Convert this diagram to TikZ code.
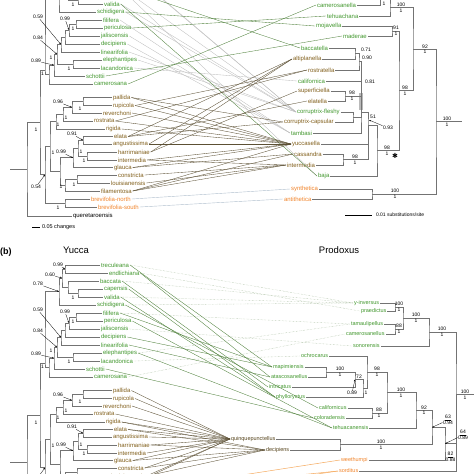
\documentclass[tikz,border=0pt]{standalone}
\usepackage{fontspec}
\setmainfont{Liberation Sans}
\newfontfamily\dejavu{DejaVu Sans}
\usetikzlibrary{arrows.meta}

\definecolor{ygreen}{RGB}{64,150,44}
\definecolor{ybrown}{RGB}{128,94,26}
\definecolor{ydark}{RGB}{84,66,26}
\definecolor{yorange}{RGB}{240,130,40}
\definecolor{treegray}{RGB}{115,115,115}
\definecolor{lkgreen}{RGB}{78,128,58}
\definecolor{lkpale}{RGB}{160,182,150}
\definecolor{lkgray}{RGB}{190,190,190}
\definecolor{lkbrown}{RGB}{92,80,52}
\definecolor{lkblue}{RGB}{175,190,205}
\definecolor{lkorange}{RGB}{245,170,95}

\tikzset{
  taxon/.style={anchor=west, inner sep=0.8pt, font=\fontsize{6}{7}\selectfont},
  smalltaxon/.style={taxon, font=\fontsize{5.5}{6.5}\selectfont},
  supp/.style={inner sep=0.3pt, font=\fontsize{5}{6}\selectfont},
  branch/.style={draw=treegray, line width=0.7pt},
  pointer/.style={-{Stealth[length=2pt,width=1.6pt]}, line width=0.3pt, black},
  linkgreen/.style={lkgreen, line width=0.35pt},
  linkpale/.style={lkpale, line width=0.4pt, densely dotted},
  linkgray/.style={lkgray, line width=0.35pt},
  linkbrown/.style={lkbrown, line width=0.35pt},
  linkblue/.style={lkblue, line width=0.4pt},
  linkorange/.style={lkorange, line width=0.5pt},
}

\newcommand{\clade}[3]{\draw[branch] (#1) -| (#2) |- (#3);}
% support value above and below a stem
\newcommand{\bsup}[5]{%
  \node[supp,anchor=south] (#1u) at (#2,#3-0.6) {#4};
  \node[supp,anchor=north] (#1l) at (#2,#3+0.6) {#5};}

% the Yucca tree, drawn in both panels
\newcommand{\yuccatree}[1]{%
  \foreach \nm/\xx/\yy/\tcol in {treculeana/100/-28/ygreen, endlichiana/108/-20/ygreen,
      baccata/99/-12/ygreen, capensis/103/-4/ygreen, valida/103/4/ygreen,
      schidigera/96/12/ygreen, filifera/102/20/ygreen, periculosa/103/28/ygreen,
      jaliscensis/100/36/ygreen, decipiens/100/44/ygreen, linearifolia/100/52/ygreen,
      elephantipes/102/60/ygreen, lacandonica/100/68/ygreen, schottii/85/76/ygreen,
      camerosana/93/84/ygreen, pallida/112/97.5/ybrown, rupicola/112/105.5/ybrown,
      reverchoni/102/113/ybrown, rostrata/93/121/ybrown, rigida/105/129/ybrown,
      elata/113/136.5/ybrown, angustissima/112/144/ybrown, harrimaniae/117/152/ybrown,
      intermedia/117/160/ybrown, glauca/113/167.5/ybrown, constricta/117/175/ybrown,
      louisianensis/110/183/ybrown, filamentosa/100/191/ybrown,
      brevifolia-north/90/199/yorange, brevifolia-south/97/207/yorange,
      queretaroensis/72/216/black}{
    \node[taxon,text=\tcol] (#1-\nm) at (\xx,\yy) {\nm};
  }
  % green clade
  \coordinate (#1-a1) at (65,-24);
  \coordinate (#1-a2) at (78,0);
  \coordinate (#1-a3) at (68,-6);
  \coordinate (#1-a4) at (62,-15);
  \coordinate (#1-a5) at (59,-1.5);
  \coordinate (#1-a6) at (76,24);
  \coordinate (#1-a7) at (69,30);
  \coordinate (#1-a8) at (65,37);
  \coordinate (#1-a9) at (61,44.5);
  \coordinate (#1-a10) at (73,64);
  \coordinate (#1-a11) at (57,54.25);
  \coordinate (#1-a12) at (54,65.1);
  \coordinate (#1-a13) at (49,74.6);
  \coordinate (#1-a14) at (45,70);
  \clade{#1-treculeana.west}{#1-a1}{#1-endlichiana.west}
  \clade{#1-capensis.west}{#1-a2}{#1-valida.west}
  \clade{#1-baccata.west}{#1-a3}{#1-a2}
  \clade{#1-a1}{#1-a4}{#1-a3}
  \clade{#1-a4}{#1-a5}{#1-schidigera.west}
  \clade{#1-filifera.west}{#1-a6}{#1-periculosa.west}
  \clade{#1-a6}{#1-a7}{#1-jaliscensis.west}
  \clade{#1-a7}{#1-a8}{#1-decipiens.west}
  \clade{#1-a8}{#1-a9}{#1-linearifolia.west}
  \clade{#1-elephantipes.west}{#1-a10}{#1-lacandonica.west}
  \clade{#1-a9}{#1-a11}{#1-a10}
  \clade{#1-a11}{#1-a12}{#1-schottii.west}
  \clade{#1-a12}{#1-a13}{#1-camerosana.west}
  \clade{#1-a5}{#1-a14}{#1-a13}
  % brown clade
  \coordinate (#1-b1) at (83,101.5);
  \coordinate (#1-b2) at (72,107.25);
  \coordinate (#1-b3) at (63,114.1);
  \coordinate (#1-b4) at (56,121.6);
  \coordinate (#1-b5) at (83,140.25);
  \coordinate (#1-b6) at (87,156);
  \coordinate (#1-b7) at (78,148.1);
  \coordinate (#1-b8) at (73,157.8);
  \coordinate (#1-b9) at (77,179);
  \coordinate (#1-b10) at (65,185);
  \coordinate (#1-b11) at (60,171.4);
  \coordinate (#1-b12) at (50,146.5);
  \coordinate (#1-c1) at (65,203);
  \coordinate (#1-c2) at (45,174.7);
  \coordinate (#1-r1) at (40,122.35);
  \coordinate (#1-r0) at (27,169.2);
  \clade{#1-pallida.west}{#1-b1}{#1-rupicola.west}
  \clade{#1-b1}{#1-b2}{#1-reverchoni.west}
  \clade{#1-b2}{#1-b3}{#1-rostrata.west}
  \clade{#1-b3}{#1-b4}{#1-rigida.west}
  \clade{#1-elata.west}{#1-b5}{#1-angustissima.west}
  \clade{#1-harrimaniae.west}{#1-b6}{#1-intermedia.west}
  \clade{#1-b5}{#1-b7}{#1-b6}
  \clade{#1-b7}{#1-b8}{#1-glauca.west}
  \clade{#1-constricta.west}{#1-b9}{#1-louisianensis.west}
  \clade{#1-b9}{#1-b10}{#1-filamentosa.west}
  \clade{#1-b8}{#1-b11}{#1-b10}
  \clade{#1-b4}{#1-b12}{#1-b11}
  \clade{#1-brevifolia-north.west}{#1-c1}{#1-brevifolia-south.west}
  \clade{#1-b12}{#1-c2}{#1-c1}
  \clade{#1-a14}{#1-r1}{#1-c2}
  \clade{#1-r1}{#1-r0}{#1-queretaroensis.west}
  \draw[branch] (#1-r0) -- ++(-17,0);
  % support values
  \node[supp] (#1-s1) at (58,-28) {0.99};
  \node[supp] (#1-s2) at (50,-18) {0.60};
  \node[supp] (#1-s3) at (38,-9) {0.78};
  \node[supp] (#1-s4) at (73,5) {1};
  \node[supp] (#1-s5) at (38,17) {0.59};
  \node[supp] (#1-s6) at (65,19) {0.99};
  \node[supp] (#1-s7) at (73,29) {1};
  \node[supp] (#1-s8) at (38,38) {0.84};
  \node[supp] (#1-s9) at (36,61) {0.89};
  \node[supp] (#1-s10) at (69,69) {1};
  \node[supp] (#1-s11) at (42.5,74) {1};
  \node[supp] (#1-s12) at (51,58) {1};
  \node[supp] (#1-s13) at (58,102) {0.96};
  \node[supp] (#1-s14) at (80,108.5) {1};
  \node[supp] (#1-s15) at (66,118) {1};
  \node[supp] (#1-s16) at (58,125) {1};
  \node[supp] (#1-s17) at (72,134) {0.91};
  \node[supp] (#1-s18) at (81,152) {1};
  \node[supp] (#1-s19) at (84,161) {1};
  \node[supp] (#1-s20) at (61,152) {0.99};
  \node[supp] (#1-s21) at (53,153) {1};
  \node[supp] (#1-s22) at (61,187) {1};
  \node[supp] (#1-s23) at (74,185) {1};
  \node[supp] (#1-s24) at (36,130) {1};
  \node[supp] (#1-s25) at (36,187) {0.54};
  \node[supp] (#1-s26) at (58,208) {1};
  \draw[pointer] (#1-s1) -- (#1-a1);
  \draw[pointer] (#1-s2) -- (#1-a4);
  \draw[pointer] (#1-s3) -- (#1-a5);
  \draw[pointer] (#1-s5) -- (#1-a9);
  \draw[pointer] (#1-s6) -- (#1-a7);
  \draw[pointer] (#1-s8) -- (#1-a11);
  \draw[pointer] (#1-s9) -- (#1-a12);
  \draw[pointer] (#1-s13) -- (#1-b2);
  \draw[pointer] (#1-s17) -- (#1-b5);
  \draw[pointer] (#1-s20) -- (#1-b8);
  \draw[pointer] (#1-s25) -- (#1-c2);
  % scale
  \draw[black, line width=0.4pt] (32,227) -- (40,227);
  \node[taxon,font=\fontsize{5.5}{6}\selectfont] (#1-scale) at (41,227) {0.05 changes};
}

\begin{document}
\begin{tikzpicture}[x=1pt,y=-1pt]
\useasboundingbox (0,0) rectangle (474,474);
\clip (0,0) rectangle (474,474);

%% (a) Yucca -- Tegeticula
\yuccatree{a}

\foreach \nm/\xx/\yy/\tcol in {camerosanella/316/5/ygreen, tehuachana/326/16/ygreen,
    mojavella/315/26/ygreen, maderae/342/36/ygreen, baccatella/300/48/ygreen,
    altiplanella/292/59/ybrown, rostratella/307/70/ybrown, californica/297/81/ygreen,
    superficiella/297/91/ybrown, elatella/307/101/ybrown, corruptrix-fleshy/296/112/ygreen,
    corruptrix-capsular/283/122/ybrown, tambasi/290/133/ygreen, yuccasella/291/144/ybrown,
    cassandra/293/154/ybrown, intermedia/286/165/ybrown, baja/317/176/ygreen,
    synthetica/290/189/yorange, antithetica/283/199/yorange}{
  \node[taxon,text=\tcol] (t-\nm) at (\xx,\yy) {\nm};
}
\fill[gray!55] (358.5,93) rectangle (362.5,110);
\draw[branch] (t-camerosanella.east) -| (380,-8);
\coordinate (t-t0) at (380,-0.5);
\coordinate (t-t1) at (390,7.75);
\coordinate (t-t2) at (392,31);
\coordinate (t-t3) at (355,53.5);
\coordinate (t-t4) at (359,61.75);
\coordinate (t-t5) at (345,96);
\coordinate (t-t6) at (353,117);
\coordinate (t-t7) at (361,112);
\coordinate (t-t8) at (343,159.5);
\coordinate (t-t9) at (368,125);
\coordinate (t-t10) at (377,150.5);
\coordinate (t-t11) at (399,90.75);
\coordinate (t-t12) at (413,49.25);
\coordinate (t-t13) at (372,194);
\coordinate (t-t14) at (436,121.6);
\clade{t-t0}{t-t1}{t-tehuachana.east}
\clade{t-mojavella.east}{t-t2}{t-maderae.east}
\clade{t-baccatella.east}{t-t3}{t-altiplanella.east}
\clade{t-t3}{t-t4}{t-rostratella.east}
\clade{t-superficiella.east}{t-t5}{t-elatella.east}
\clade{t-corruptrix-fleshy.east}{t-t6}{t-corruptrix-capsular.east}
\clade{t-t4}{t-t7}{t-tambasi.east}
\draw[branch] (t-californica.east) -| (t-t7);
\draw[branch] (t-t5) -| (t-t7);
\draw[branch] (t-t6) -| (t-t7);
\clade{t-cassandra.east}{t-t8}{t-intermedia.east}
\clade{t-t7}{t-t9}{t-t8}
\draw[branch] (t-yuccasella.east) -| (t-t9);
\clade{t-t9}{t-t10}{t-baja.east}
\clade{t-t2}{t-t11}{t-t10}
\clade{t-t1}{t-t12}{t-t11}
\clade{t-synthetica.east}{t-t13}{t-antithetica.east}
\clade{t-t12}{t-t14}{t-t13}
\draw[branch] (t-t14) -- ++(26,0);
\node[supp] (t-s1) at (384,4) {1};
\bsup{t-s2}{401}{7.75}{100}{1}
\bsup{t-s3}{396}{31}{91}{1}
\node[supp] (t-s4) at (366,50) {0.71};
\node[supp] (t-s5) at (367,57.5) {0.90};
\bsup{t-s6}{352}{96}{98}{1}
\node[supp] (t-s7) at (370,82) {0.81};
\node[supp] (t-s8) at (373,117) {51};
\node[supp] (t-s9) at (388,128) {0.93};
\coordinate (t-k1) at (369,120);
\draw[pointer] (t-s9) -- (t-k1);
\bsup{t-s10}{355}{159.5}{98}{1}
\bsup{t-s11}{387}{150.5}{98}{1}
\node[inner sep=0pt, font=\dejavu\fontsize{7}{7}\selectfont] (t-s12) at (395,155.5) {✱};
\bsup{t-s13}{405}{90.75}{98}{1}
\bsup{t-s14}{425}{49.25}{92}{1}
\bsup{t-s15}{447}{121.6}{100}{1}
\bsup{t-s16}{395}{194}{100}{1}
\draw[black, line width=0.4pt] (345,215) -- (372,215);
\node[taxon,font=\fontsize{5}{6}\selectfont] (t-scale) at (375,215) {0.01 substitutions/site};

% links (a)
\foreach \src/\dst in {treculeana/corruptrix-fleshy, endlichiana/corruptrix-fleshy,
    baccata/corruptrix-fleshy, capensis/baja, valida/corruptrix-fleshy,
    schidigera/corruptrix-fleshy, filifera/tambasi, jaliscensis/tambasi, decipiens/tambasi,
    linearifolia/corruptrix-fleshy, elephantipes/corruptrix-fleshy, lacandonica/californica}
  \draw[linkgray] (a-\src.east) -- (t-\dst.west);
\foreach \src/\dst in {baccata/baccatella, valida/baja, schidigera/mojavella,
    periculosa/tehuachana, schottii/maderae, camerosana/camerosanella}
  \draw[linkgreen] (a-\src.east) -- (t-\dst.west);
\foreach \src/\dst in {pallida/yuccasella, pallida/corruptrix-capsular, rupicola/yuccasella,
    rupicola/rostratella, reverchoni/yuccasella, rostrata/rostratella, rostrata/yuccasella,
    rigida/yuccasella, elata/altiplanella, elata/elatella, elata/corruptrix-capsular,
    angustissima/altiplanella, angustissima/yuccasella, harrimaniae/altiplanella,
    harrimaniae/superficiella, intermedia/yuccasella, intermedia/intermedia,
    glauca/yuccasella, glauca/cassandra, constricta/intermedia, louisianensis/intermedia,
    filamentosa/intermedia, filamentosa/yuccasella, filamentosa/cassandra}
  \draw[linkbrown] (a-\src.east) -- (t-\dst.west);
\foreach \src/\dst in {brevifolia-north/synthetica, brevifolia-south/antithetica}
  \draw[linkblue] (a-\src.east) -- (t-\dst.west);

%% (b) Yucca -- Prodoxus
\node[anchor=west, inner sep=0pt, font=\bfseries\fontsize{9}{10}\selectfont] (panelb) at (0,252) {(b)};
\node[font=\fontsize{9.5}{10}\selectfont] (yuccatitle) at (76,250) {Yucca};
\node[font=\fontsize{9.5}{10}\selectfont] (prodtitle) at (339,250) {Prodoxus};

\begin{scope}[shift={(0,293)}]
  \yuccatree{b}
\end{scope}

\foreach \nm/\xx/\yy/\tcol in {y-inversus/353/303/ygreen, praedictus/360/311/ygreen,
    tamaulipellus/350/324/ygreen, camerosanellus/345/334/ygreen, sonorensis/352/346/ygreen,
    ochrocarus/300/356/ygreen, mapimiensis/272/367/ygreen, atascosanellus/270/377/ygreen,
    intricatus/268/387/ygreen, phylloryctus/275/397/ygreen, californicus/318/408/ygreen,
    coloradensis/313/418/ygreen, tehuacanensis/332/428/ygreen,
    quinquepunctellus/230/439/ydark, decipiens/265/450/ydark,
    weethumpi/340/460/yorange, sorditus/338/471/yorange}{
  \node[smalltaxon,text=\tcol] (p-\nm) at (\xx,\yy) {\nm};
}
\coordinate (p-p1) at (395,307);
\coordinate (p-p2) at (395,329);
\coordinate (p-p3) at (403,318);
\coordinate (p-p4) at (429,332);
\coordinate (p-p5) at (326,372);
\coordinate (p-p6) at (355,379.5);
\coordinate (p-p7) at (363,388.25);
\coordinate (p-p8) at (367,372.1);
\coordinate (p-p9) at (372,413);
\coordinate (p-p10) at (387,392.6);
\coordinate (p-p11) at (416,410.3);
\coordinate (p-p12) at (340,444.5);
\coordinate (p-p13) at (432,427.4);
\coordinate (p-p14) at (445,443.7);
\coordinate (p-p16) at (456,394.7);
\clade{p-y-inversus.east}{p-p1}{p-praedictus.east}
\clade{p-tamaulipellus.east}{p-p2}{p-camerosanellus.east}
\clade{p-p1}{p-p3}{p-p2}
\clade{p-p3}{p-p4}{p-sonorensis.east}
\clade{p-mapimiensis.east}{p-p5}{p-atascosanellus.east}
\clade{p-p5}{p-p6}{p-intricatus.east}
\clade{p-p6}{p-p7}{p-phylloryctus.east}
\clade{p-ochrocarus.east}{p-p8}{p-p7}
\clade{p-californicus.east}{p-p9}{p-coloradensis.east}
\clade{p-p8}{p-p10}{p-p9}
\clade{p-p10}{p-p11}{p-tehuacanensis.east}
\clade{p-quinquepunctellus.east}{p-p12}{p-decipiens.east}
\clade{p-p11}{p-p13}{p-p12}
\clade{p-p13}{p-p14}{p-weethumpi.east}
\clade{p-p4}{p-p16}{p-sorditus.east}
\draw[branch] (p-p14) -| (p-p16);
\draw[branch] (p-p16) -- ++(20,0);
\bsup{p-s1}{399}{307}{100}{1}
\bsup{p-s2}{399}{329}{88}{1}
\bsup{p-s3}{416}{318}{100}{1}
\bsup{p-s4}{442}{332}{100}{1}
\bsup{p-s5}{340}{372}{100}{1}
\node[supp,anchor=south] (p-s6) at (359,379) {72};
\node[supp] (p-s7) at (352,393) {0.89};
\draw[pointer] (p-s7) -- (p-p6);
\node[supp] (p-s8) at (366,393) {1};
\bsup{p-s9}{377}{372.1}{98}{1}
\bsup{p-s10}{379}{413}{88}{1}
\bsup{p-s11}{401}{392.6}{100}{1}
\bsup{p-s12}{424}{410.3}{92}{1}
\bsup{p-s13}{381}{444.5}{100}{1}
\node[supp,align=center] (p-s14) at (448,420) {\underline{63}\\0.94};
\draw[pointer] (p-s14) -- (p-p13);
\node[supp,align=center] (p-s15) at (463,435) {\underline{64}\\0.89};
\draw[pointer] (p-s15) -- (p-p14);
\node[supp,align=center] (p-s16) at (450.5,457) {\underline{82}\\0.88};
\bsup{p-s17}{465}{394.7}{100}{1}

% links (b)
\foreach \src/\dst in {treculeana/y-inversus, endlichiana/praedictus, baccata/y-inversus,
    valida/y-inversus, schidigera/y-inversus, filifera/tamaulipellus, jaliscensis/sonorensis,
    lacandonica/ochrocarus, camerosana/camerosanellus, elephantipes/tamaulipellus}
  \draw[linkpale] (b-\src.east) -- (p-\dst.west);
\foreach \src/\dst in {treculeana/mapimiensis, endlichiana/atascosanellus, baccata/intricatus,
    capensis/phylloryctus, valida/phylloryctus, schidigera/californicus, filifera/mapimiensis,
    periculosa/tehuacanensis, decipiens/mapimiensis, linearifolia/atascosanellus,
    elephantipes/tehuacanensis, schottii/coloradensis}
  \draw[linkgreen] (b-\src.east) -- (p-\dst.west);
\foreach \src in {pallida, rupicola, reverchoni, rostrata, rigida, elata, angustissima,
    harrimaniae, intermedia, glauca, constricta, louisianensis, filamentosa}
  \draw[linkbrown] (b-\src.east) -- (p-quinquepunctellus.west);
\foreach \src in {rigida, elata, harrimaniae, glauca, constricta, louisianensis}
  \draw[linkbrown] (b-\src.east) -- (p-decipiens.west);
\foreach \src/\dst in {brevifolia-north/weethumpi, brevifolia-south/sorditus,
    brevifolia-north/sorditus}
  \draw[linkorange] (b-\src.east) -- (p-\dst.west);
\end{tikzpicture}
\end{document}
